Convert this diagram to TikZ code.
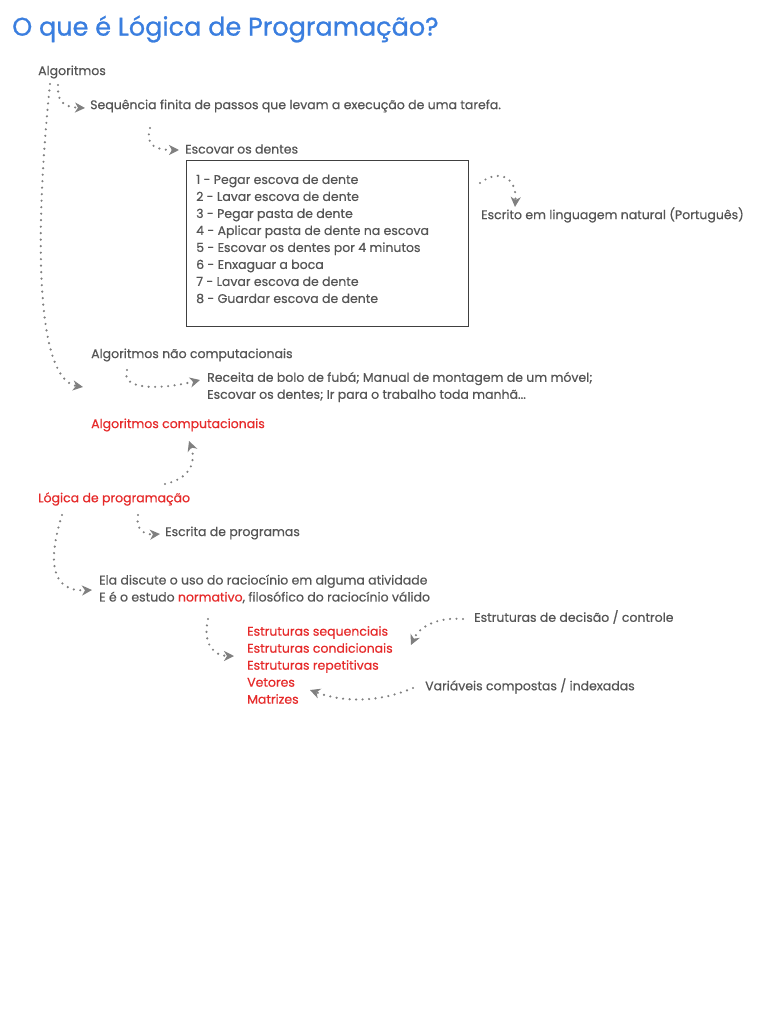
\documentclass[tikz,border=0pt]{standalone}
\usepackage{fontspec}
\newfontfamily\txtfont{Poppins}[FakeBold=0.5]
\newfontfamily\ttlfont{Poppins}[FakeBold=0.9]
\usetikzlibrary{arrows.meta}
\definecolor{txtgray}{HTML}{555555}
\definecolor{arrgray}{HTML}{808080}
\definecolor{redtxt}{HTML}{E62A2A}
\definecolor{bluetxt}{HTML}{3A7EDF}
\begin{document}
\begin{tikzpicture}[x=1pt,y=-1pt,
  lbl/.style={anchor=west,inner sep=0pt,text=txtgray,font=\txtfont\fontsize{12.5}{17}\selectfont,align=left},
  redlbl/.style={lbl,text=redtxt},
  dotarrow/.style={draw=arrgray,line width=2.4pt,line cap=round,dash pattern=on 0pt off 6.5pt,
    -{Stealth[length=10pt,width=10pt,inset=3pt,fill=arrgray]}}]
\useasboundingbox[fill=white] (0,0) rectangle (768,1024);
\node[anchor=west,inner sep=0pt,text=bluetxt,font=\ttlfont\fontsize{25.5}{30}\selectfont] (title) at (12,29) {O que é Lógica de Programação?};
\node[lbl] (alg) at (38,72) {Algoritmos};
\node[lbl] (seq) at (90,106) {Sequência finita de passos que levam a execução de uma tarefa.};
\node[lbl] (esc) at (185,149) {Escovar os dentes};
\node[draw=black!75,line width=1.2pt,anchor=north west,minimum width=282pt,minimum height=166pt,inner sep=0pt] (box) at (186,160) {};
\node[lbl,anchor=north west] (steps) at (196,174.5) {1 - Pegar escova de dente\\2 - Lavar escova de dente\\3 - Pegar pasta de dente\\4 - Aplicar pasta de dente na escova\\5 - Escovar os dentes por 4 minutos\\6 - Enxaguar a boca\\7 - Lavar escova de dente\\8 - Guardar escova de dente};
\node[lbl] (nat) at (481,215) {Escrito em linguagem natural (Português)};
\node[lbl] (nao) at (91,355) {Algoritmos não computacionais};
\node[lbl] (rec) at (207,387) {Receita de bolo de fubá; Manual de montagem de um móvel;\\Escovar os dentes; Ir para o trabalho toda manhã...};
\node[redlbl] (comp) at (91,425) {Algoritmos computacionais};
\node[redlbl] (log) at (38,499) {Lógica de programação};
\node[lbl] (escr) at (165,533) {Escrita de programas};
\node[lbl] (ela) at (99,589) {Ela discute o uso do raciocínio em alguma atividade\\E é o estudo \textcolor{redtxt}{normativo}, filosófico do raciocínio válido};
\node[lbl] (dec) at (474,617) {Estruturas de decisão / controle};
\node[redlbl] (est) at (247,665) {Estruturas sequenciais\\Estruturas condicionais\\Estruturas repetitivas\\Vetores\\Matrizes};
\node[lbl] (var) at (425,686) {Variáveis compostas / indexadas};
% connector coordinates
\coordinate (a1) at (58,85);  \coordinate (b1) at (85,108);
\coordinate (a2) at (50,84);  \coordinate (b2) at (83,387);
\coordinate (a3) at (150,128); \coordinate (b3) at (179,150);
\coordinate (a4) at (480,183); \coordinate (b4) at (515,207);
\coordinate (a5) at (127,370); \coordinate (b5) at (200,380);
\coordinate (a6) at (165,484); \coordinate (b6) at (189,441);
\coordinate (a7) at (138,515); \coordinate (b7) at (160,534);
\coordinate (a8) at (62,515);  \coordinate (b8) at (92,590);
\coordinate (a9) at (208,619); \coordinate (b9) at (234,656);
\coordinate (a10) at (463,619); \coordinate (b10) at (411,645);
\coordinate (a11) at (413,688); \coordinate (b11) at (310,690);
\draw[dotarrow] (a1) .. controls (57,100) and (62,107) .. (b1);
\draw[dotarrow] (a2) .. controls (33,250) and (38,380) .. (b2);
\draw[dotarrow] (a3) .. controls (145,145) and (155,150) .. (b3);
\draw[dotarrow] (a4) .. controls (500,168) and (517,178) .. (b4);
\draw[dotarrow] (a5) .. controls (120,390) and (160,390) .. (b5);
\draw[dotarrow] (a6) .. controls (192,478) and (196,460) .. (b6);
\draw[dotarrow] (a7) .. controls (135,530) and (145,535) .. (b7);
\draw[dotarrow] (a8) .. controls (48,560) and (50,592) .. (b8);
\draw[dotarrow] (a9) .. controls (202,645) and (215,656) .. (b9);
\draw[dotarrow] (a10) .. controls (440,617) and (420,625) .. (b10);
\draw[dotarrow] (a11) .. controls (380,702) and (345,703) .. (b11);
\end{tikzpicture}
\end{document}
